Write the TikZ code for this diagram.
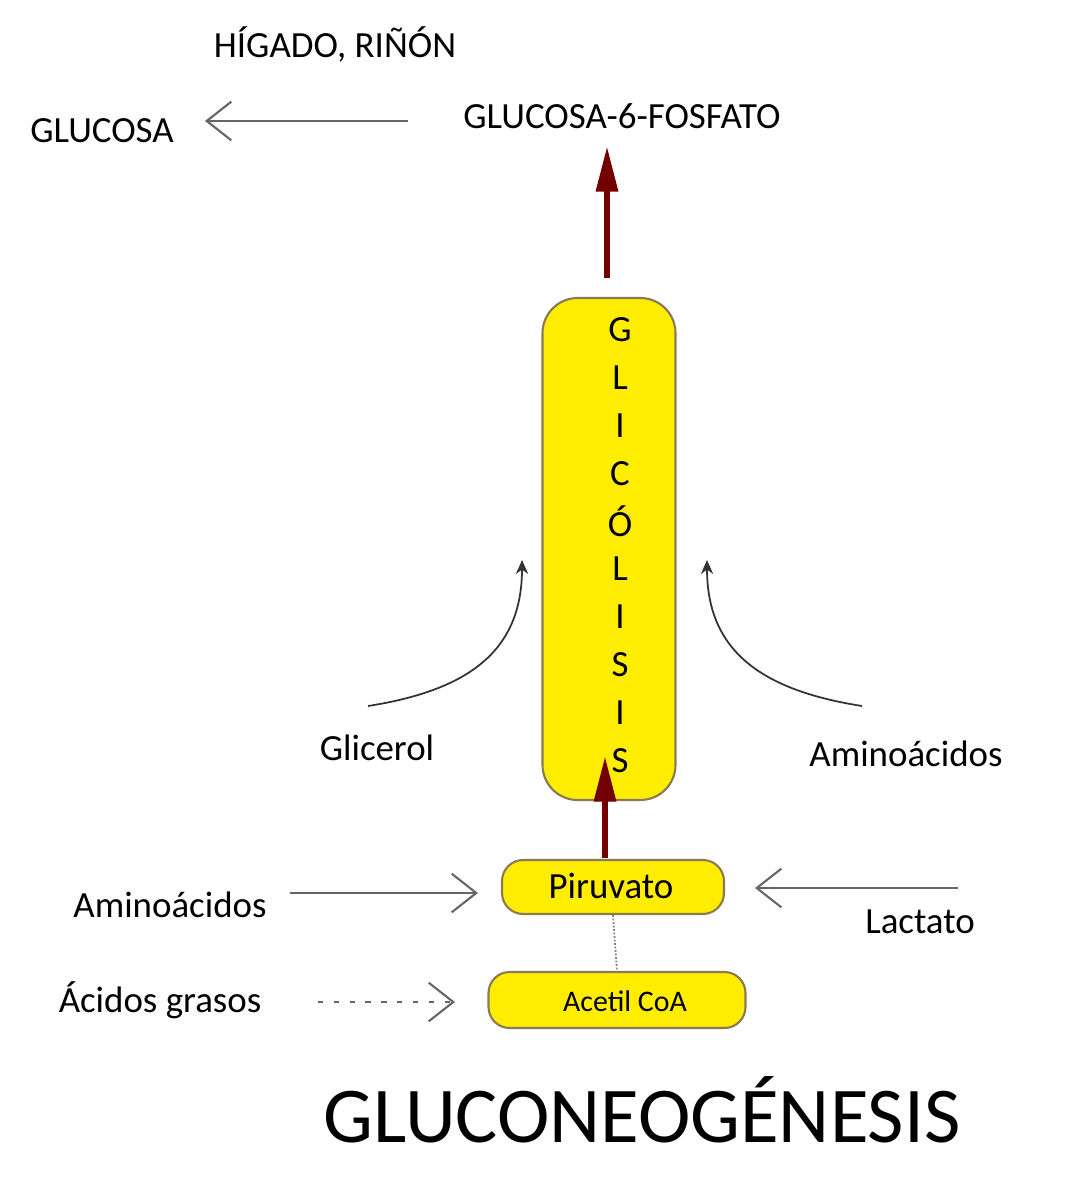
\documentclass[tikz,border=0pt]{standalone}
\usepackage{fontspec}
\setmainfont{Carlito}
\usetikzlibrary{arrows.meta}
\tikzset{
  lbl/.style={font=\fontsize{21}{24}\selectfont},
  caja/.style={draw=black!70!yellow!60!brown, line width=1.2pt, fill=yellow!95!orange, rounded corners=12pt},
  gris/.style={draw=black!60, line width=1.2pt, -{Straight Barb[length=14pt,width=22pt]}},
  roja/.style={draw=red!45!black, fill=red!60!black, line width=3.5pt, -{Triangle[length=26pt,width=12pt]}},
  curva/.style={draw=black!80, line width=1pt, -{Stealth[length=8pt,width=7pt]}}
}
\begin{document}
\begin{tikzpicture}[x=0.02cm,y=-0.02cm]
\useasboundingbox (0,0) rectangle (1068,1202);
\node[lbl] (higado) at (335,44) {HÍGADO, RIÑÓN};
\node[lbl] (glucosa) at (102,131) {GLUCOSA};
\node[lbl] (g6p) at (622,116) {GLUCOSA-6-FOSFATO};
\coordinate (ga) at (408,121);
\coordinate (gb) at (205,121);
\draw[gris] (ga) -- (gb);
% glicolisis
\node[caja, minimum width=133*0.02cm, minimum height=502*0.02cm, rounded corners=20pt] (glic) at (609,549) {};
\foreach \l [count=\i] in {G,L,I,C,Ó,L,I,S,I,S}
  \node[lbl] (l\i) at (620,330+47.8*\i-47.8) {\l};
\coordinate (r1) at (607,278);
\coordinate (r2) at (607,146);
\draw[roja] (r1) -- (r2);
% cajas inferiores
\node[caja, minimum width=222*0.02cm, minimum height=54*0.02cm] (piru) at (613,887) {};
\node[lbl] at (611,886) {Piruvato};
\node[caja, minimum width=257*0.02cm, minimum height=56*0.02cm] (acetil) at (617,1000) {};
\node[lbl, font=\fontsize{17}{20}\selectfont] at (625,1001) {Acetil CoA};
\coordinate (r3) at (605,858);
\coordinate (r4) at (605,756);
\draw[roja] (r3) -- (r4);
\draw[densely dotted, black!50, line width=1pt] (piru.south) -- (acetil.north);
% entradas
\node[lbl] (glicerol) at (377,748) {Glicerol};
\node[lbl] (amino1) at (906,754) {Aminoácidos};
\coordinate (c1) at (368,706);
\coordinate (c2) at (522,560);
\coordinate (c3) at (862,706);
\coordinate (c4) at (707,560);
\draw[curva] (c1) .. controls (470,690) and (522,650) .. (c2);
\draw[curva] (c3) .. controls (760,690) and (707,650) .. (c4);
\node[lbl] (amino2) at (170,905) {Aminoácidos};
\node[lbl] (lactato) at (920,922) {Lactato};
\node[lbl] (acidos) at (160,1000) {Ácidos grasos};
\coordinate (a1) at (290,893);
\coordinate (a2) at (478,893);
\coordinate (a3) at (958,888);
\coordinate (a4) at (755,888);
\coordinate (a5) at (318,1002);
\coordinate (a6) at (455,1002);
\draw[gris] (a1) -- (a2);
\draw[gris] (a3) -- (a4);
\draw[gris, dash pattern=on 3pt off 6pt] (a5) -- (a6);
\node[font=\fontsize{45}{50}\selectfont] (titulo) at (642,1110) {GLUCONEOGÉNESIS};
\end{tikzpicture}
\end{document}
